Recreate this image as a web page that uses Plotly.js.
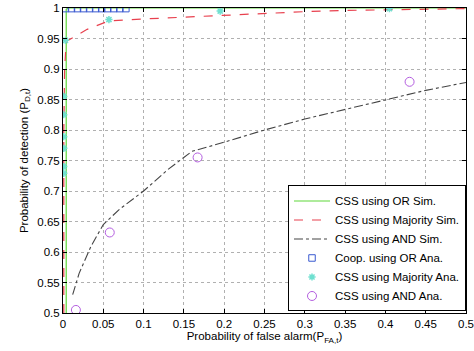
<!DOCTYPE html>
<html>
<head>
<meta charset="utf-8">
<script src="https://cdn.plot.ly/plotly-3.0.1.min.js"></script>
<style>html,body{margin:0;padding:0;background:#fff;}#chart{width:474px;height:351px;}</style>
</head>
<body>
<div id="chart"></div>
<script>
// CSS using OR Sim.
const orSimX = [0.004, 0.004, 0.006, 0.5];
const orSimY = [0.5, 0.998, 1.0, 1.0];
// CSS using Majority Sim.
const majSimX = [0.001, 0.001, 0.002, 0.004, 0.03, 0.057, 0.1, 0.15, 0.2, 0.25, 0.3, 0.35, 0.4, 0.45, 0.5];
const majSimY = [0.5, 0.8, 0.9, 0.945, 0.965, 0.979, 0.982, 0.985, 0.989, 0.991, 0.994, 0.996, 0.997, 0.998, 0.999];
// CSS using AND Sim.
const andSimX = [0.012, 0.02, 0.035, 0.05, 0.07, 0.1, 0.13, 0.16, 0.2, 0.25, 0.3, 0.35, 0.4, 0.45, 0.5];
const andSimY = [0.53, 0.565, 0.61, 0.645, 0.67, 0.7, 0.735, 0.765, 0.78, 0.8, 0.818, 0.834, 0.85, 0.865, 0.878];
// Coop. using OR Ana.
const orAnaX = [0.003, 0.0105, 0.018, 0.0255, 0.033, 0.0405, 0.048, 0.0555, 0.063, 0.0705, 0.078];
const orAnaY = [0.999, 0.999, 0.999, 0.999, 0.999, 0.999, 0.999, 0.999, 0.999, 0.999, 0.999];
// CSS using Majority Ana.
const majAnaX = [0.001, 0.001, 0.001, 0.001, 0.001, 0.001, 0.003, 0.057, 0.195, 0.405];
const majAnaY = [0.729, 0.74, 0.77, 0.789, 0.825, 0.855, 0.947, 0.981, 0.995, 0.999];
// CSS using AND Ana.
const andAnaX = [0.016, 0.058, 0.167, 0.43];
const andAnaY = [0.505, 0.632, 0.755, 0.879];

const xTicks = [0, 0.05, 0.1, 0.15, 0.2, 0.25, 0.3, 0.35, 0.4, 0.45, 0.5];
const xTickText = ['0', '0.05', '0.1', '0.15', '0.2', '0.25', '0.3', '0.35', '0.4', '0.45', '0.5'];
const yTicks = [0.5, 0.55, 0.6, 0.65, 0.7, 0.75, 0.8, 0.85, 0.9, 0.95, 1];
const yTickText = ['0.5', '0.55', '0.6', '0.65', '0.7', '0.75', '0.8', '0.85', '0.9', '0.95', '1'];

const FONT = 'Liberation Sans, Arial, Helvetica, sans-serif';

const traces = [
  {x: orSimX, y: orSimY, mode: 'lines', name: 'CSS using OR Sim.',
   line: {color: '#5fd83a', width: 1.2}},
  {x: majSimX, y: majSimY, mode: 'lines', name: 'CSS using Majority Sim.',
   line: {color: '#e8404e', width: 1.2, dash: 'dash'}},
  {x: andSimX, y: andSimY, mode: 'lines', name: 'CSS using AND Sim.',
   line: {color: '#444444', width: 1.1, dash: 'dashdot'}},
  {x: orAnaX, y: orAnaY, mode: 'markers', name: 'Coop. using OR Ana.',
   marker: {symbol: 'square-open', size: 6.5, color: '#3a5ad0', line: {width: 1}}},
  {x: majAnaX, y: majAnaY, mode: 'markers', name: 'CSS using Majority Ana.',
   marker: {symbol: 'asterisk-open', size: 6, color: '#6fe0d0', line: {width: 1.5, color: '#6fe0d0'}}},
  {x: andAnaX, y: andAnaY, mode: 'markers', name: 'CSS using AND Ana.',
   marker: {symbol: 'circle-open', size: 9, color: '#b45ee0', line: {width: 1}}}
];

const layout = {
  width: 474, height: 351,
  margin: {l: 63, r: 8, t: 8, b: 38},
  paper_bgcolor: '#ffffff', plot_bgcolor: '#ffffff',
  font: {family: FONT, size: 11, color: '#000'},
  showlegend: true,
  legend: {x: 1, xanchor: 'right', y: 0.005, yanchor: 'bottom',
    bgcolor: '#ffffff', bordercolor: '#000', borderwidth: 1,
    font: {family: FONT, size: 11.5, color: '#000'}, tracegroupgap: 0,
    itemwidth: 36},
  xaxis: {range: [0, 0.5], tickvals: xTicks, ticktext: xTickText,
    showline: true, linecolor: '#000', linewidth: 1, mirror: 'ticks',
    ticks: 'inside', ticklen: 4, tickcolor: '#000',
    showgrid: true, gridcolor: '#b0b0b0', griddash: 'dot', gridwidth: 1,
    zeroline: false, tickfont: {size: 11.5},
    title: {text: 'Probability of false alarm(P<sub>FA,t</sub>)', font: {size: 11.5}, standoff: 3}},
  yaxis: {range: [0.5, 1], tickvals: yTicks, ticktext: yTickText,
    showline: true, linecolor: '#000', linewidth: 1, mirror: 'ticks',
    ticks: 'inside', ticklen: 4, tickcolor: '#000',
    showgrid: true, gridcolor: '#b0b0b0', griddash: 'dot', gridwidth: 1,
    zeroline: false, tickfont: {size: 11.5},
    title: {text: 'Probability of detection (P<sub>D,t</sub>)', font: {size: 11.5}, standoff: 6}}
};

Plotly.newPlot('chart', traces, layout, {displayModeBar: false, staticPlot: true});
</script>
</body>
</html>
